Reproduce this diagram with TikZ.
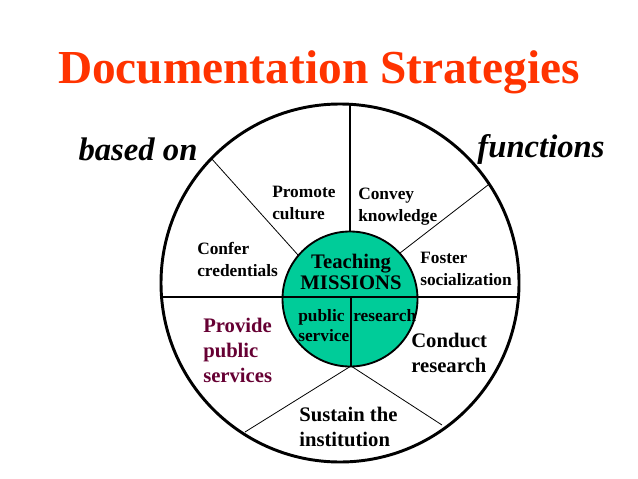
\documentclass[tikz,border=0pt]{standalone}
\usepackage{fontspec}
\setmainfont{Liberation Serif}
\definecolor{titlered}{HTML}{FF3300}
\definecolor{mgreen}{HTML}{00CC99}
\definecolor{purp}{HTML}{660033}
\begin{document}
\begin{tikzpicture}[x=0.75pt,y=-0.75pt,
  lab/.style={font=\bfseries\fontsize{13}{16.5}\selectfont,align=left,anchor=north west,inner sep=0},
  big/.style={font=\bfseries\fontsize{15.5}{18.8}\selectfont,align=left,anchor=north west,inner sep=0},
  thick line/.style={line width=2.2pt},
  thin line/.style={line width=0.6pt}]
\useasboundingbox (0,0) rectangle (638,478);
\node[font=\bfseries\fontsize{35.5}{40}\selectfont,text=titlered] (title) at (319,72) {Documentation Strategies};
\node[font=\bfseries\itshape\fontsize{24.5}{28}\selectfont] (b) at (138,149) {based on};
\node[font=\bfseries\itshape\fontsize{24.5}{28}\selectfont] (f) at (541,149) {functions};
\coordinate (c) at (340,283);
\draw[thick line] (c) circle[radius=179];
\draw[thin line] (211,158) -- (298,255);
\draw[thin line] (488,185) -- (400,253);
\draw[thin line] (351,366) -- (245,432);
\draw[thin line] (351,366) -- (442,425);
\draw[thick line] (350,104) -- (350,234);
\node[circle,fill=mgreen,draw=black,line width=1.4pt,minimum size=135*0.75pt,inner sep=0] (inner) at (350,299) {};
\draw[thick line] (160,297) -- (520,297);
\draw[line width=1pt] (351,297) -- (351,366);
\node[font=\bfseries\fontsize{15.5}{16}\selectfont,align=center] (t) at (351,272) {Teaching\\MISSIONS};
\node[font=\bfseries\fontsize{13}{15}\selectfont,anchor=north west,inner sep=0,align=left] (ps) at (298,309) {public\\service};
\node[font=\bfseries\fontsize{13}{15}\selectfont,anchor=north west,inner sep=0] (rs) at (353,309) {research};
\node[lab] (pc) at (272,186) {Promote\\culture};
\node[lab] (ck) at (358,188) {Convey\\knowledge};
\node[lab] (cc) at (197,242) {Confer\\credentials};
\node[lab] (fs) at (420,252) {Foster\\socialization};
\node[big,text=purp] (pp) at (203,318) {Provide\\public\\services};
\node[big] (cr) at (411,333) {Conduct\\research};
\node[big] (si) at (299,407) {Sustain the\\institution};
\end{tikzpicture}
\end{document}
